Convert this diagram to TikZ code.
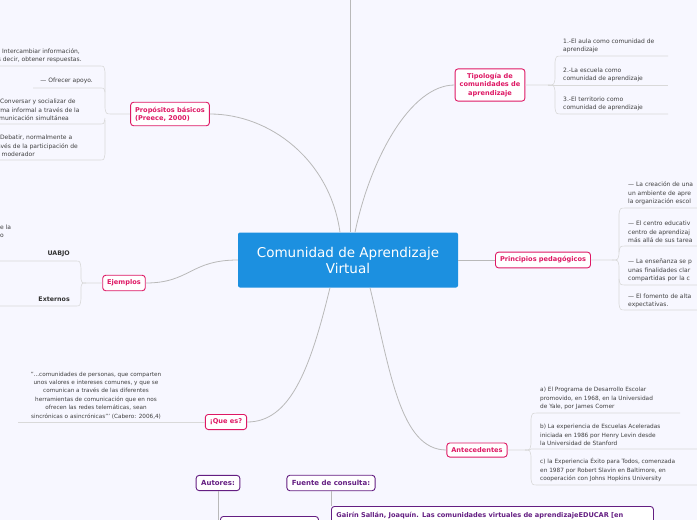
\documentclass[tikz,border=0pt]{standalone}
\usepackage{fontspec}
\setmainfont{DejaVu Sans}
\definecolor{cblue}{RGB}{28,144,224}
\definecolor{cpink}{RGB}{222,24,100}
\definecolor{cviol}{RGB}{100,30,130}
\begin{document}
\begin{tikzpicture}[x=1pt,y=-1pt,
  con/.style={draw=gray!55,line width=0.8pt},
  sep/.style={draw=gray!30,line width=0.6pt},
  pbox/.style={draw=cpink,line width=0.9pt,rounded corners=3pt,fill=white,text=cpink,font=\bfseries\fontsize{6.6}{8.3}\selectfont,align=center,inner sep=4.5pt},
  vbox/.style={draw=cviol,line width=0.9pt,rounded corners=3pt,fill=white,text=cviol,font=\bfseries\fontsize{7}{8}\selectfont,align=center,inner sep=5pt},
  leaf/.style={font=\fontsize{6}{8.4}\selectfont,text=black!75,inner sep=0pt,align=left},
  lbold/.style={font=\bfseries\fontsize{6.3}{8}\selectfont,text=black!80,inner sep=0pt}]
\fill[blue!3!white] (0,0) rectangle (697,520);
\useasboundingbox (0,0) rectangle (697,520);
\begin{scope}
\clip (0,0) rectangle (697,520);
% central
\node[fill=cblue,rounded corners=2pt,minimum width=220pt,minimum height=55pt,text=white,font=\fontsize{13.5}{16}\selectfont,align=center] (c) at (348,260) {Comunidad de Aprendizaje\\Virtual};
\coordinate (top) at (350,0);
\draw[con] (top) -- (350,232);
% main nodes
\node[pbox,align=left] (prop) at (170,114) {Propósitos básicos\\(Preece, 2000)};
\node[pbox] (tipo) at (490,85) {Tipología de\\comunidades de\\aprendizaje};
\node[pbox] (prin) at (543,260) {Principios pedagógicos};
\node[pbox] (ej) at (124,283) {Ejemplos};
\node[pbox] (que) at (226,422) {¡Que es?};
\node[pbox] (ant) at (477,450) {Antecedentes};
\node[vbox] (aut) at (218,483) {Autores:};
\node[vbox] (fue) at (331,483) {Fuente de consulta:};
\node[vbox,anchor=north west,text width=312pt,minimum height=26pt,align=left,font=\bfseries\fontsize{6.6}{8}\selectfont,text depth=10pt] (gai) at (331,506) {Gairín Sallán, Joaquín. Las comunidades virtuales de aprendizajeEDUCAR [en};
\node[vbox,anchor=north west,minimum width=98pt,minimum height=20pt] (box2) at (220,516) {};
\draw[con] (aut) -- (218,520);
\draw[con] (fue) -- (gai.north -| fue);
% connectors
\draw[con] (c.north) ++(-8,0) .. controls (330,160) and (270,114) .. (prop.east);
\draw[con] (c.north) ++(7,0) .. controls (370,160) and (410,85) .. (tipo.west);
\draw[con] (c.east) -- (prin.west);
\draw[con] (c.west) .. controls (190,260) and (190,283) .. (ej.east);
\draw[con] (c.south) ++(-18,0) .. controls (310,370) and (290,422) .. (que.east);
\draw[con] (c.south) ++(22,0) .. controls (390,370) and (400,450) .. (ant.west);
% Propositos leaves
\node[leaf,anchor=south west] (p1) at (-6,63) {— Intercambiar información,\\es decir, obtener respuestas.};
\node[leaf,anchor=south east] (p2) at (93,84) {— Ofrecer apoyo.};
\node[leaf,anchor=south west] (p3) at (-8,121) {— Conversar y socializar de\\forma informal a través de la\\comunicación simultánea};
\node[leaf,anchor=south west] (p4) at (-8,157) {— Debatir, normalmente a\\través de la participación de\\un moderador};
\draw[sep] (0,66) -- (100,66) .. controls (104,66) .. (105,72) -- (105,108) .. controls (106,114) .. (112,114) -- (prop.west);
\draw[sep] (33,88) -- (100,88) .. controls (104,88) .. (105,92);
\draw[sep] (0,124) -- (100,124) .. controls (104,124) .. (105,118);
\draw[sep] (0,160) -- (100,160) .. controls (104,160) .. (105,154) -- (105,120);
% Ejemplos
\node[leaf,anchor=south west] (efr) at (0,238) {e la\\o};
\node[lbold,anchor=south east] (uab) at (70,257) {UABJO};
\node[lbold,anchor=south east] (ext) at (70,302) {Externos};
\draw[sep] (0,261) -- (76,261) .. controls (80,261) .. (81,268) -- (81,279) .. controls (82,283) .. (86,283) -- (ej.west);
\draw[sep] (0,306) -- (76,306) .. controls (80,306) .. (81,299) -- (81,287) .. controls (82,283) .. (86,283);
% Que es
\node[leaf,align=center,anchor=south,font=\fontsize{5.7}{8.4}\selectfont] (qt) at (96,419) {"...comunidades de personas, que comparten\\unos valores e intereses comunes, y que se\\comunican a través de las diferentes\\herramientas de comunicación que en nos\\ofrecen las redes telemáticas, sean\\sincrónicas o asincrónicas"' (Cabero: 2006,4)};
\draw[sep] (18,422) -- (que.west);
% Tipologia leaves
\node[leaf,anchor=south west] (t1) at (563,53) {1.-El aula como comunidad de\\aprendizaje};
\node[leaf,anchor=south west] (t2) at (563,82) {2.-La escuela como\\comunidad de aprendizaje};
\node[leaf,anchor=south west] (t3) at (563,111) {3.-El territorio como\\comunidad de aprendizaje};
\draw[sep] (tipo.east) -- (548,85) .. controls (554,85) .. (555,79) -- (555,62) .. controls (556,56) .. (562,56) -- (668,56);
\draw[sep] (548,85) -- (668,85);
\draw[sep] (548,85) .. controls (554,85) .. (555,91) -- (555,108) .. controls (556,114) .. (562,114) -- (668,114);
% Principios leaves
\node[leaf,anchor=south west] (r1) at (628,205) {— La creación de una\\un ambiente de apre\\la organización escol};
\node[leaf,anchor=south west] (r2) at (628,243) {— El centro educativ\\centro de aprendizaj\\más allá de sus tarea};
\node[leaf,anchor=south west] (r3) at (628,282) {— La enseñanza se p\\unas finalidades clar\\compartidas por la c};
\node[leaf,anchor=south west] (r4) at (628,308) {— El fomento de alta\\expectativas.};
\draw[sep] (prin.east) -- (612,260) .. controls (618,260) .. (619,254) -- (619,214) .. controls (620,208) .. (626,208) -- (697,208);
\draw[sep] (619,252) .. controls (620,246) .. (626,246) -- (697,246);
\draw[sep] (612,260) .. controls (618,260) .. (619,266) -- (619,304) .. controls (620,310) .. (626,310) -- (697,310);
\draw[sep] (619,279) .. controls (620,285) .. (626,285) -- (697,285);
% Antecedentes leaves
\node[leaf,anchor=south west,font=\fontsize{5.8}{8.4}\selectfont] (a1) at (540,410) {a) El Programa de Desarrollo Escolar\\promovido, en 1968, en la Universidad\\de Yale, por James Comer};
\node[leaf,anchor=south west,font=\fontsize{5.8}{8.4}\selectfont] (a2) at (540,446) {b) La experiencia de Escuelas Aceleradas\\iniciada en 1986 por Henry Levin desde\\la Universidad de Stanford};
\node[leaf,anchor=south west,font=\fontsize{5.8}{8.4}\selectfont] (a3) at (540,482) {c) la Experiencia Éxito para Todos, comenzada\\en 1987 por Robert Slavin en Baltimore, en\\cooperación con Johns Hopkins University};
\draw[sep] (ant.east) -- (525,450) .. controls (530,450) .. (531,444) -- (531,419) .. controls (532,413) .. (538,413) -- (680,413);
\draw[sep] (525,450) .. controls (530,450) .. (531,449) -- (697,449);
\draw[sep] (525,450) .. controls (530,450) .. (531,456) -- (531,479) .. controls (532,485) .. (538,485) -- (697,485);
\end{scope}
\end{tikzpicture}
\end{document}
